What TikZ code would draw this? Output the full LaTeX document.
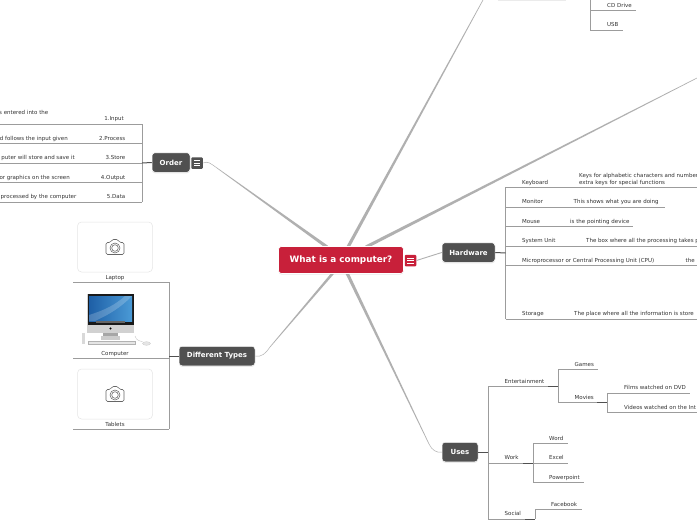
\documentclass[tikz,border=0pt]{standalone}
\usepackage{fontspec}
\setmainfont{DejaVu Sans}
\usetikzlibrary{calc,shadows}
\definecolor{rootc}{HTML}{C8203A}
\definecolor{darkc}{HTML}{505050}
\definecolor{linec}{HTML}{9C9C9C}
\definecolor{spokec}{HTML}{B0B0B0}
\definecolor{screena}{HTML}{1E5FA6}
\definecolor{screenb}{HTML}{4A9AD6}
\tikzset{
  rootbox/.style={fill=rootc,draw=white,line width=0.6pt,rounded corners=3pt,text=white,font=\bfseries\fontsize{8.85}{11}\selectfont,minimum width=125pt,minimum height=27pt,inner sep=0pt,drop shadow={opacity=0.18,shadow xshift=0pt,shadow yshift=-1pt}},
  mainbox/.style={fill=darkc,draw=white,line width=0.5pt,rounded corners=3pt,text=white,font=\bfseries\fontsize{7}{9}\selectfont,minimum height=19.5pt,inner sep=0pt,drop shadow={opacity=0.18,shadow xshift=0pt,shadow yshift=-1pt}},
  lbl/.style={font=\fontsize{5.5}{7}\selectfont,text=black!80,inner sep=0pt,anchor=west,align=left,yshift=-0.6pt},
  lblr/.style={lbl,anchor=east,align=right},
  lblc/.style={lbl,anchor=center,align=center},
  treeline/.style={draw=linec,line width=0.75pt},
  stub/.style={draw=darkc,line width=1pt},
  spokeend/.style={draw=spokec,line width=0.5pt},
  placeholder/.style={draw=black!10,line width=0.5pt,rounded corners=4pt,fill=white,minimum width=75pt,minimum height=50pt,inner sep=0pt},
  menubtn/.style={rounded corners=1pt,minimum size=11.5pt,inner sep=0pt},
}
% tapered spoke from one named coordinate to another
\newcommand{\taper}[3]{\fill[spokec] ($(#1)!#3!90:(#2)$) -- ($(#2)!0.3pt!-90:(#1)$) -- ($(#2)!0.3pt!90:(#1)$) -- ($(#1)!#3!-90:(#2)$) -- cycle;}
% a horizontal tree row
\newcommand{\treerow}[4]{\coordinate (#1-l) at (#2,#4);\coordinate (#1-r) at (#3,#4);\draw[treeline] (#1-l) -- (#1-r);}
\newcommand{\menuicon}[2]{\foreach \dy in {-2.4,0,2.4}{\draw[white,line width=0.6pt] ($(#1)+(-3.2,\dy)$) -- ($(#1)+(3.2,\dy)$);}}
\newcommand{\camera}[1]{%
  \begin{scope}[shift={(#1)},draw=black!60,line width=0.55pt]
    \draw[rounded corners=1.5pt] (-9,-4.5) -- (-4.5,-4.5) -- (-3,-7.5) -- (3,-7.5) -- (4.5,-4.5) -- (9,-4.5) -- (9,7.5) -- (-9,7.5) -- cycle;
    \draw (0,1) circle (5);
    \draw (0,1) circle (3.3);
  \end{scope}}
\begin{document}
\begin{tikzpicture}[x=1pt,y=-1pt]
\useasboundingbox (0,0) rectangle (697,520);
\clip (0,0) rectangle (697,520);
\fill[white] (0,0) rectangle (697,520);

% spokes
\coordinate (s-order-a) at (327,247); \coordinate (s-order-b) at (217,168);
\coordinate (s-top-a) at (348,247); \coordinate (s-top-b) at (483,0);
\coordinate (s-ur-a) at (366,247); \coordinate (s-ur-b) at (697,78);
\coordinate (s-diff-a) at (333,273); \coordinate (s-diff-b) at (270,347);
\coordinate (s-uses-a) at (347,273); \coordinate (s-uses-b) at (429,444);
\taper{s-order-a}{s-order-b}{1.6pt}
\taper{s-top-a}{s-top-b}{1.6pt}
\taper{s-ur-a}{s-ur-b}{1.6pt}
\taper{s-diff-a}{s-diff-b}{1.3pt}
\taper{s-uses-a}{s-uses-b}{1.6pt}

% hidden box at top
\fill[black!8] (498,-6) rectangle (565.5,0.8);
\fill[white] (498,-6) rectangle (565.5,-1);

% main nodes
\node[rootbox] (root) at (341,260) {\raisebox{-1pt}{What is a computer?}};
\node[menubtn,fill=rootc] (rootmenu) at (410.5,260.5) {};
\menuicon{rootmenu}{}
\node[mainbox,minimum width=53pt] (hardware) at (468.5,252.5) {\raisebox{-0.5pt}{Hardware}};
\node[mainbox,minimum width=38pt] (order) at (171,162.5) {\raisebox{-0.5pt}{Order}};
\node[menubtn,fill=darkc] (ordermenu) at (197,163) {};
\menuicon{ordermenu}{}
\node[mainbox,minimum width=76pt] (types) at (217,356) {\raisebox{-0.5pt}{Different Types}};
\node[mainbox,minimum width=36pt] (uses) at (460,452) {\raisebox{-0.5pt}{Uses}};

% thin spoke ends
\draw[spokeend] (ordermenu.east) .. controls (208,161) and (210,163) .. (s-order-b);
\draw[spokeend] (types.east) .. controls (262,357) and (265,354) .. (s-diff-b);
\draw[spokeend] (uses.west) .. controls (436,453) and (432,450) .. (s-uses-b);
\draw[spokec,line width=0.9pt] (rootmenu.east) -- (hardware.west);

% ---- Order
\coordinate (ov-t) at (142,124); \coordinate (ov-b) at (142,202);
\treerow{o1}{0}{142}{124}
\treerow{o2}{0}{142}{143.5}
\treerow{o3}{0}{142}{163}
\treerow{o4}{0}{142}{182.5}
\treerow{o5}{0}{142}{202}
\draw[treeline] (ov-t) -- (ov-b);
\draw[stub] (order.west) -- (o3-r);
\node[lblr] (ot1) at (124,118) {1.Input};
\node[lblr] (ot2) at (125.5,138) {2.Process};
\node[lblr] (ot3) at (125.5,157) {3.Store};
\node[lblr] (ot4) at (125.5,177) {4.Output};
\node[lblr] (ot5) at (125.5,196) {5.Data};
\node[lblr] (od1) at (48.5,112) {s entered into the};
\node[lblr] (od2) at (68,138) {d follows the input given};
\node[lblr] (od3) at (75,157) {puter will store and save it};
\node[lblr] (od4) at (70,177) {or graphics on the screen};
\node[lblr] (od5) at (76.5,196) {processed by the computer};

% ---- Different Types
\coordinate (tv-t) at (169,282); \coordinate (tv-b) at (169,429);
\treerow{t1}{73}{169}{282}
\treerow{t2}{73}{169}{358}
\treerow{t3}{73}{169}{429}
\draw[treeline] (tv-t) -- (tv-b);
\coordinate (t-join) at (169,356);
\draw[stub] (types.west) -- (t-join);
\node[placeholder] (lapbox) at (115,247) {};
\camera{115,247}
\node[lblc] (lapt) at (115,277) {Laptop};
\node[placeholder] (tabbox) at (115,394) {};
\camera{115,394}
\node[lblc] (tabt) at (115,424) {Tablets};
\node[lblc] (compt) at (115,353) {Computer};
% computer picture
\fill[black!18] (87,294) rectangle (134,333);
\fill[black!90] (87.5,294) rectangle (133.5,324.5);
\shade[left color=screena,right color=screenb] (89,296) rectangle (132,321);
\fill[white,opacity=0.2] (89,315) .. controls (105,310) and (115,305) .. (125,296) -- (132,296) .. controls (120,308) and (110,314) .. (95,321) -- (89,321) -- cycle;
\fill[black!60] (96,321) rectangle (125,322.5);
\fill[black] (110.5,328.5) circle (1.1);
\fill[black!35] (103,333) rectangle (118,336);
\fill[black!20] (101,336) rectangle (120,340);
\fill[black!10,draw=black!30,line width=0.2pt] (88,341) rectangle (135,344.5);
\draw[black!25,line width=0.3pt] (135,336) .. controls (137,342) and (140,340) .. (143,342);
\fill[black!10,draw=black!25,line width=0.2pt] (146.5,343.5) ellipse (4 and 1.8);
\fill[black!15] (82,333) rectangle (84.5,344);

% ---- Hardware
\coordinate (hv-t) at (505.5,187); \coordinate (hv-b) at (505.5,319);
\treerow{h1}{505.5}{697}{187}
\treerow{h2}{505.5}{665}{207}
\treerow{h3}{505.5}{633}{226.5}
\treerow{h4}{505.5}{697}{246}
\treerow{h5}{505.5}{697}{265.5}
\treerow{h6}{505.5}{697}{319}
\draw[treeline] (hv-t) -- (hv-b);
\coordinate (h-join) at (505.5,253);
\draw[stub] (hardware.east) -- (h-join);
\node[lbl] (hl1) at (522,182) {Keyboard};
\node[lbl] (hl2) at (522,201) {Monitor};
\node[lbl] (hl3) at (522,221) {Mouse};
\node[lbl] (hl4) at (522,240) {System Unit};
\node[lbl] (hl5) at (522,260) {Microprocessor or Central Processing Unit (CPU)};
\node[lbl] (hl6) at (522,313) {Storage};
\node[lbl] (hd1) at (579,178.5) {Keys for alphabetic characters and number\\extra keys for special functions};
\node[lbl] (hd2) at (573.5,201) {This shows what you are doing};
\node[lbl] (hd3) at (570,221) {is the pointing device};
\node[lbl] (hd4) at (586,240) {The box where all the processing takes p};
\node[lbl] (hd5) at (685.5,260) {the};
\node[lbl] (hd6) at (574,313) {The place where all the information is store};

% ---- Uses
\coordinate (uv-t) at (488,386); \coordinate (uv-b) at (488,519);
\treerow{u1}{488}{558}{386}
\treerow{u2}{488}{533}{463}
\treerow{u3}{488}{535}{519}
\draw[treeline] (uv-t) -- (uv-b);
\coordinate (u-join) at (488,452);
\draw[stub] (uses.east) -- (u-join);
\node[lbl] (ul1) at (504.5,381) {Entertainment};
\node[lbl] (ul2) at (504.5,457) {Work};
\node[lbl] (ul3) at (504.5,513) {Social};
% entertainment branch
\treerow{e1}{558}{598}{369.5}
\treerow{e2}{558}{607}{402.5}
\draw[treeline] (e1-l) -- (e2-l);
\coordinate (e-s) at (548,386); \coordinate (e-j) at (558,386);
\draw[stub,line width=0.9pt] (e-s) -- (e-j);
\node[lbl] (ue1) at (574.5,364) {Games};
\node[lbl] (ue2) at (574.5,397) {Movies};
% movies branch
\treerow{m1}{607}{690}{393}
\treerow{m2}{607}{697}{412.5}
\draw[treeline] (m1-l) -- (m2-l);
\coordinate (m-s) at (597,402.5); \coordinate (m-j) at (607,402.5);
\draw[stub,line width=0.9pt] (m-s) -- (m-j);
\node[lbl] (um1) at (624,387) {Films watched on DVD};
\node[lbl] (um2) at (624,407) {Videos watched on the Int};
% work branch
\treerow{w1}{533}{568}{443}
\treerow{w2}{533}{568}{463}
\treerow{w3}{533}{584}{482.5}
\draw[treeline] (w1-l) -- (w3-l);
\coordinate (w-s) at (523,463);
\draw[stub,line width=0.9pt] (w-s) -- (w2-l);
\node[lbl] (uw1) at (549,438) {Word};
\node[lbl] (uw2) at (549,457) {Excel};
\node[lbl] (uw3) at (549,477) {Powerpoint};
% social branch
\treerow{f1}{535}{582}{509}
\draw[treeline] (f1-l) -- (u3-r);
\coordinate (f-s) at (525,519);
\draw[stub,line width=0.9pt] (f-s) -- (u3-r);
\node[lbl] (uf1) at (551,504) {Facebook};

% ---- top fragment
\coordinate (cv-t) at (590,-2);
\treerow{c1}{590}{636}{10.5}
\treerow{c2}{590}{623}{30}
\draw[treeline] (cv-t) -- (c2-l);
\node[lbl] (ct1) at (607,5) {CD Drive};
\node[lbl] (ct2) at (607,24) {USB};
\end{tikzpicture}
\end{document}
